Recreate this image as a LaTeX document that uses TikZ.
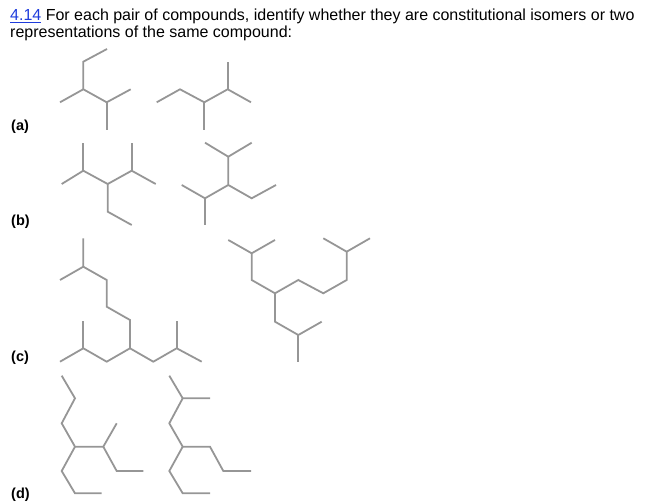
\documentclass[tikz,border=0pt]{standalone}
\usepackage{fontspec}
\setmainfont{Liberation Sans}
\definecolor{bond}{RGB}{150,150,150}
\definecolor{linkblue}{RGB}{30,60,220}
\begin{document}
\begin{tikzpicture}[x=1pt,y=-1pt,bondline/.style={draw=bond,line width=1.8pt,line join=miter},
 lab/.style={font=\bfseries\fontsize{14.5}{16}\selectfont,anchor=base west,inner sep=0pt}]
\useasboundingbox (0,0) rectangle (648,502);
\node[anchor=base west,inner sep=0pt,font=\fontsize{16}{18}\selectfont] (t1) at (10,21) {\textcolor{linkblue}{\underline{4.14}} For each pair of compounds, identify whether they are constitutional isomers or two};
\node[anchor=base west,inner sep=0pt,font=\fontsize{16}{18}\selectfont] (t2) at (10,38) {representations of the same compound:};
\node[lab] (la) at (11,131) {(a)};
\node[lab] (lb) at (11,226) {(b)};
\node[lab] (lc) at (11,362) {(c)};
\node[lab] (ld) at (11,498) {(d)};
% (a)
\draw[bondline] (107,49)--(83.3,61.7)--(83.3,89.3);
\draw[bondline] (60,102.3)--(83.3,89.3)--(106.7,102.3)--(130.7,89.3);
\draw[bondline] (106.7,102.3)--(106.7,130);
\draw[bondline] (156.7,102.3)--(180,89.3)--(204.3,102.3)--(227.7,89.3)--(251,102.3);
\draw[bondline] (204.3,102.3)--(204.3,130);
\draw[bondline] (227.7,89.3)--(227.7,61.7);
% (b)
\draw[bondline] (61.7,184)--(83.3,170.7)--(107.7,184)--(131.7,170.7)--(155.7,184);
\draw[bondline] (83.3,170.7)--(83.3,142.7);
\draw[bondline] (131.7,170.7)--(131.7,142.7);
\draw[bondline] (107.7,184)--(107.7,211.7)--(131.7,225);
\draw[bondline] (205,142.7)--(228.3,156.7)--(251.7,142.7);
\draw[bondline] (228.3,156.7)--(228.3,185)--(205,198.3)--(181.7,185);
\draw[bondline] (205,198.3)--(205,225);
\draw[bondline] (228.3,185)--(251.7,198.3)--(276,185);
% (c)
\draw[bondline] (83.3,238.3)--(83.3,266.7)--(106.7,280)--(106.7,306.7)--(130,320)--(130,348.3);
\draw[bondline] (60,280)--(83.3,266.7);
\draw[bondline] (60,361.7)--(83.3,348.3)--(106.7,361.7)--(130,348.3)--(153.3,361.7)--(176.7,348.3)--(201.7,361.7);
\draw[bondline] (83.3,348.3)--(83.3,320.7);
\draw[bondline] (176.7,348.3)--(176.7,320.7);
\draw[bondline] (228.3,240)--(251.7,253.3)--(275,240);
\draw[bondline] (251.7,253.3)--(251.7,280)--(275,293.3)--(298.3,280)--(323.3,293.3)--(346.7,280)--(346.7,251.7)--(323.3,238.3);
\draw[bondline] (346.7,251.7)--(370,238.3);
\draw[bondline] (275,293.3)--(275,321.7)--(298.3,335)--(321.7,321.7);
\draw[bondline] (298.3,335)--(298.3,361.7);
% (d)
\draw[bondline] (61.7,375.7)--(75,398.3)--(61.7,423.3)--(75,446.7)--(103.3,446.7)--(116.7,423.3);
\draw[bondline] (103.3,446.7)--(116.7,471)--(143.3,471);
\draw[bondline] (75,446.7)--(61.7,471)--(75,493.3)--(101.7,493.3);
\draw[bondline] (169.3,375.7)--(182.7,398.3)--(210,398.3);
\draw[bondline] (182.7,398.3)--(169.3,423.3)--(182.7,446.7)--(210,446.7)--(223.3,471)--(251,471);
\draw[bondline] (182.7,446.7)--(169.3,471)--(182.7,493.3)--(210,493.3);
\end{tikzpicture}
\end{document}
